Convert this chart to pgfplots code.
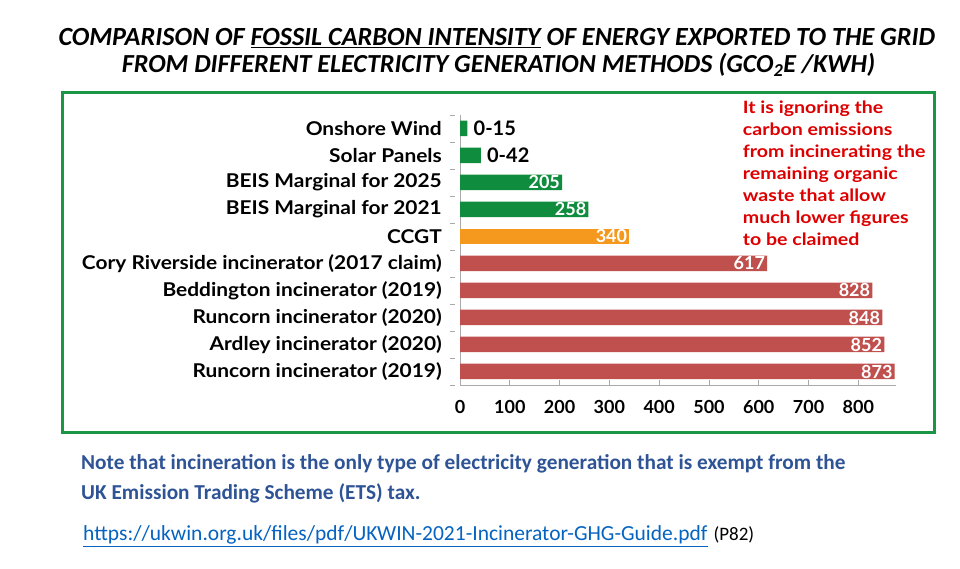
\documentclass[border=0pt]{standalone}
\usepackage{graphicx}
\usepackage{pgfplots}
\pgfplotsset{compat=1.18}
\usepackage{fontspec}
\setmainfont{Lato}
\newfontfamily\latow[FakeStretch=1.1]{Lato}
\newfontfamily\latoa[FakeStretch=1.15]{Lato}
\newfontfamily\carlito{Carlito}
\definecolor{framegreen}{RGB}{26,150,70}
\definecolor{bargreen}{RGB}{16,140,62}
\definecolor{barorange}{RGB}{244,152,30}
\definecolor{barred}{RGB}{192,80,77}
\definecolor{annred}{RGB}{222,0,0}
\definecolor{noteblue}{RGB}{47,84,150}
\definecolor{linkblue}{RGB}{5,99,193}
\definecolor{axisgray}{RGB}{170,170,170}
\begin{document}
\begin{tikzpicture}[x=1pt,y=1pt]
\fill[white] (0,0) rectangle (960,569);
\draw[framegreen, line width=3pt] (62,476) rectangle (934,136);
% title
\node[anchor=base west, inner sep=0pt] at (58.3,523) {\resizebox{876.7pt}{!}{\carlito\bfseries\itshape\fontsize{26}{30}\selectfont COMPARISON OF \underline{FOSSIL CARBON INTENSITY} OF ENERGY EXPORTED TO THE GRID}};
\node[anchor=base west, inner sep=0pt] at (121.7,496.3) {\resizebox{753.3pt}{!}{\carlito\bfseries\itshape\fontsize{26}{30}\selectfont FROM DIFFERENT ELECTRICITY GENERATION METHODS (GCO\textsubscript{2}E /KWH)}};
% annotation
\foreach \t [count=\i] in {It is ignoring the,carbon emissions,from incinerating the,remaining organic,waste that allow,much lower figures,to be claimed}{
  \node[anchor=base west, inner sep=0pt, text=annred, font=\latoa\bfseries\fontsize{17}{20}\selectfont] at (742.7,{477-22*\i}) {\t};
}
% note
\node[anchor=base west, inner sep=0pt, text=noteblue, font=\carlito\bfseries\fontsize{21.3}{24}\selectfont] at (81,99) {Note that incineration is the only type of electricity generation that is exempt from the};
\node[anchor=base west, inner sep=0pt, text=noteblue, font=\carlito\bfseries\fontsize{21.3}{24}\selectfont] at (81,69) {UK Emission Trading Scheme (ETS) tax.};
\node[anchor=base west, inner sep=0pt, font=\carlito\fontsize{21.5}{24}\selectfont] at (83,28) {\textcolor{linkblue}{\underline{https://ukwin.org.uk/files/pdf/UKWIN-2021-Incinerator-GHG-Guide.pdf}}\hspace{6pt}{\fontsize{19}{21}\selectfont(P82)}};
\begin{axis}[
  at={(460pt,184pt)}, anchor=south west,
  scale only axis, width=435.7pt, height=270pt,
  xmin=0, xmax=875, ymin=-0.5, ymax=9.5,
  clip=false,
  axis lines*=left,
  axis line style={draw=axisgray, line width=0.8pt, -},
  xtick={0,100,...,800},
  tick align=inside,
  major tick length=5pt, minor tick length=5pt,
  every major x tick/.append style={draw=axisgray, line width=0.8pt},
  every major y tick/.append style={draw=none},
  every minor y tick/.append style={draw=axisgray, line width=0.8pt, xshift=-5pt},
  ytick={0,...,9},
  minor ytick={-0.5,0.5,...,9.5},
  yticklabels={Runcorn incinerator (2019), Ardley incinerator (2020), Runcorn incinerator (2020), Beddington incinerator (2019), Cory Riverside incinerator (2017 claim), CCGT, BEIS Marginal for 2021, BEIS Marginal for 2025, Solar Panels, Onshore Wind},
  yticklabel style={font=\latow\bfseries\fontsize{19}{21}\selectfont, inner sep=0pt, xshift=-13pt},
  xticklabel style={font=\bfseries\fontsize{18}{20}\selectfont, inner sep=0pt, yshift=-15pt},
  /pgf/number format/assume math mode=true,
  xbar, bar width=15.5pt,
  point meta=explicit symbolic,
  nodes near coords,
  nodes near coords style={font=\bfseries\fontsize{18}{20}\selectfont, inner sep=2pt},
]
\addplot[fill=barred, draw=none, bar shift=0pt, nodes near coords style={anchor=east, text=white}] coordinates {(873,0)[873] (852,1)[852] (848,2)[848] (828,3)[828] (617,4)[617]};
\addplot[fill=barorange, draw=none, bar shift=0pt, nodes near coords style={anchor=east, text=white}] coordinates {(340,5)[340]};
\addplot[fill=bargreen, draw=none, bar shift=0pt, nodes near coords style={anchor=east, text=white}] coordinates {(258,6)[258] (205,7)[205]};
\addplot[fill=bargreen, draw=none, bar shift=0pt, nodes near coords style={anchor=west, text=black, inner sep=6pt, font=\bfseries\fontsize{20}{22}\selectfont}] coordinates {(42,8)[0-42] (15,9)[0-15]};
\end{axis}
\end{tikzpicture}
\end{document}
